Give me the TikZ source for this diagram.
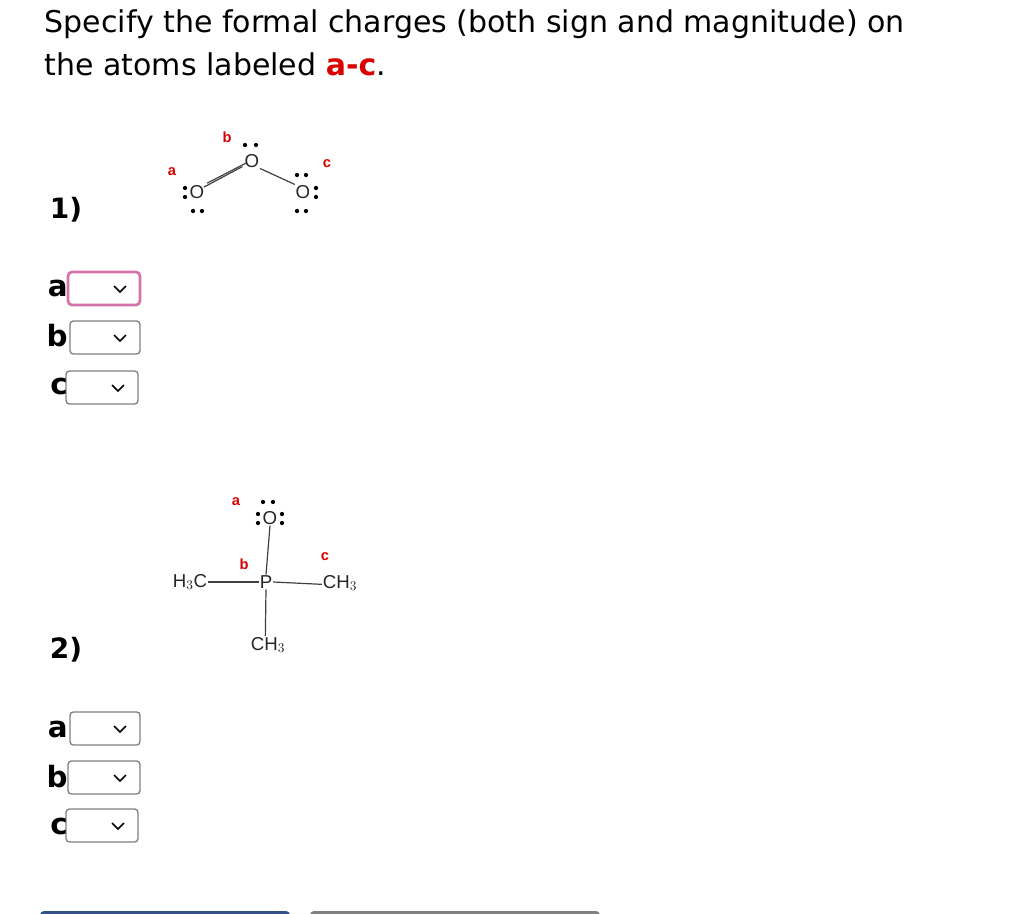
\documentclass[tikz,border=0pt]{standalone}
\usepackage{fontspec}
\setmainfont{DejaVu Sans}
\newfontfamily\chem{Liberation Sans}
\begin{document}
\begin{tikzpicture}[x=0.75pt,y=-0.75pt,
  title/.style={anchor=west,font=\fontsize{22.5}{26}\selectfont},
  part/.style={font=\bfseries\fontsize{21}{24}\selectfont},
  lbl/.style={font=\bfseries\fontsize{22}{24}\selectfont,anchor=east,inner sep=0},
  box/.style={draw=gray,rounded corners=2.5pt,line width=1pt},
  atom/.style={font=\chem\fontsize{14}{15}\selectfont,inner sep=0.5pt,text=black!85},
  tag/.style={font=\chem\bfseries\fontsize{11}{12}\selectfont,text=red!85!black,inner sep=0},
  dot/.style={fill=black,circle,inner sep=0,minimum size=3.2pt},
  bond/.style={line width=0.9pt,black!75}]
\useasboundingbox (0,0) rectangle (1032,914);
\node[title] (t1) at (40,24) {Specify the formal charges (both sign and magnitude) on};
\node[title] (t2) at (40,64) {the atoms labeled \textcolor{red!85!black}{\bfseries a-c}.};
\node[part] (p1) at (66,210) {1)};
\node[part] (p2) at (66,650) {2)};
% dropdowns
\foreach \n/\x/\y/\w in {a1/68/272/72, b1/70/321/70, c1/66/371/72, a2/70/712/70, b2/68/761/72, c2/66/809/72}{
  \draw[box] (\x,\y) rectangle ++(\w,33);
  \draw[line width=1.1pt] (\x+\w-26,\y+14) -- ++(6,6) -- ++(6,-6);
}
\draw[draw=magenta!60!gray!80,line width=2pt,rounded corners=3pt] (68,272) rectangle ++(72,33);
\foreach \l/\y in {a/288,b/336,c/386,a/729,b/777,c/826}{
  \node[lbl] at (68,\y) {\l};
}
% molecule 1
\node[atom] (oa) at (197,192) {O};
\node[atom] (ob) at (252,161) {O};
\node[atom] (oc) at (303,192) {O};
\draw[bond] ([xshift=-1pt,yshift=-2pt]oa.north east) -- ([xshift=-1pt,yshift=1.5pt]ob.south west);
\draw[bond] ([xshift=1.5pt,yshift=1pt]oa.north east) -- ([xshift=1.5pt,yshift=4pt]ob.south west);
\draw[bond] (ob.south east) -- (oc.north west);
\node[tag] at (172,172) {a};
\node[tag] at (227,137) {b};
\node[tag] at (327,164) {c};
\foreach \p in {(245,145),(256,145),(185,188),(185,197),(193,211),(202,211),(297,175),(306,175),(316,188),(316,197),(297,211),(306,211)} \node[dot] at \p {};
% molecule 2
\node[atom] (o2) at (270,518) {O};
\node[atom] (p) at (266,582) {P};
\node[atom] (ml) at (190,582) {H$_3$C};
\node[atom] (mr) at (340,583) {CH$_3$};
\node[atom] (mb) at (268,645) {CH$_3$};
\draw[bond] (o2.south) -- (p.north);
\draw[bond] (ml.east) -- (p.west);
\draw[bond] (p.east) -- ([yshift=-1pt]mr.west);
\draw[bond] (p.south) -- ([xshift=-2pt]mb.north);
\node[tag] at (236,502) {a};
\node[tag] at (244,564) {b};
\node[tag] at (325,557) {c};
\foreach \p in {(263,502),(273,502),(258,514),(258,523),(282,514),(282,523)} \node[dot] at \p {};
% bottom buttons
\fill[blue!45!black!80!cyan!60!gray,rounded corners=3pt] (40,911) rectangle (290,920);
\fill[gray,rounded corners=3pt] (310,911) rectangle (600,920);
\end{tikzpicture}
\end{document}
